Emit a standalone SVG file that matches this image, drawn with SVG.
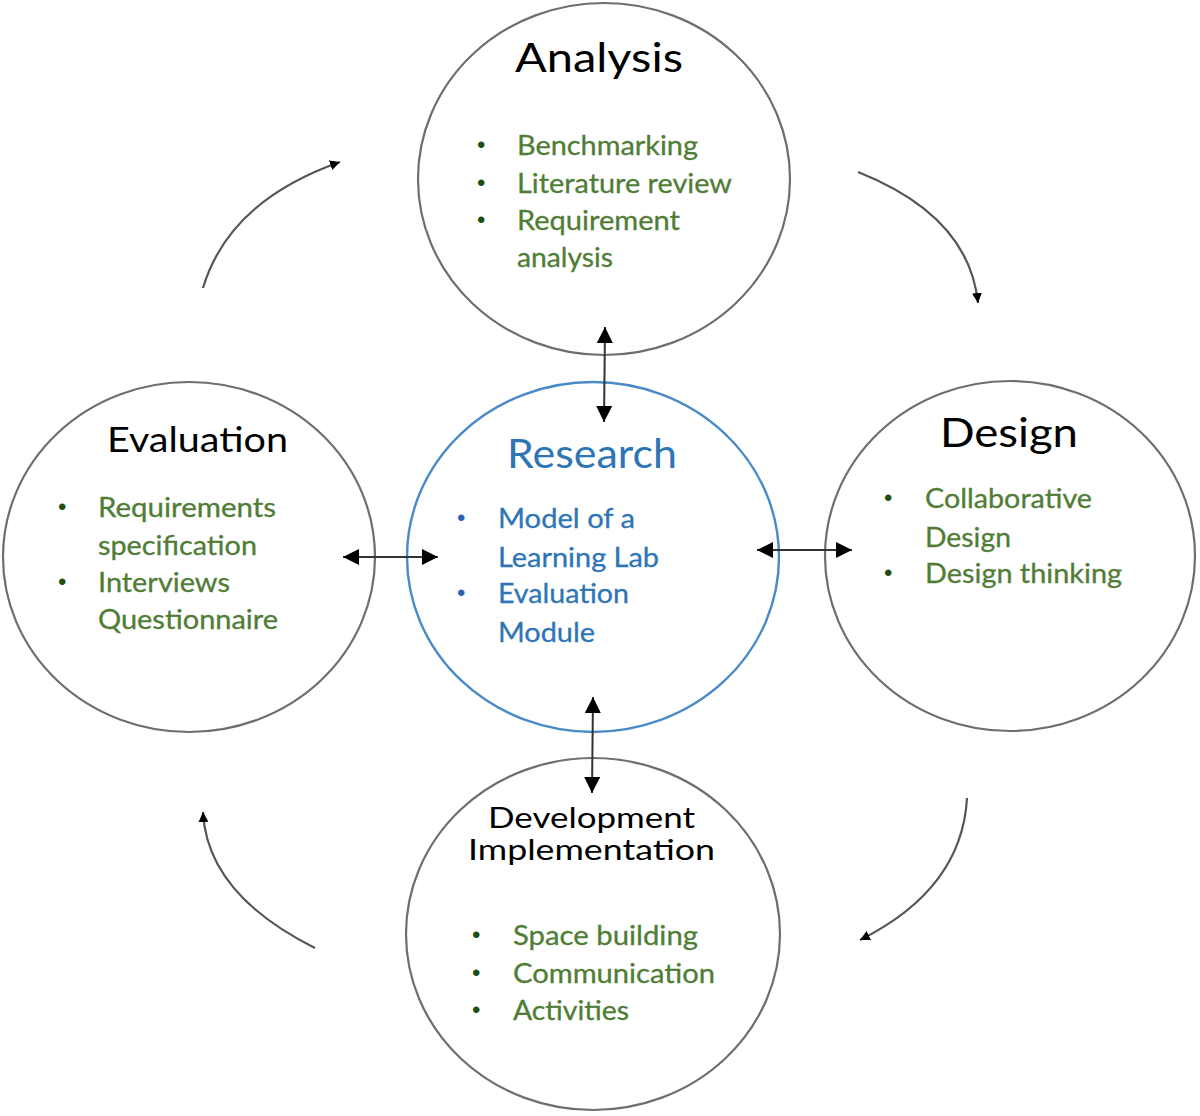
<svg xmlns="http://www.w3.org/2000/svg" width="1200" height="1116" viewBox="0 0 1200 1116">
<defs>
<style>
.node{fill:#fff;stroke:#6e6e6e;stroke-width:2.2}
.center{fill:#fff;stroke:#4a8ac8;stroke-width:2.4}
.title{font-family:Lato,"Open Sans","Liberation Sans",sans-serif;fill:#000}
.item{font-family:Lato,"Open Sans","Liberation Sans",sans-serif;font-size:27px;fill:#507d36;stroke:#507d36;stroke-width:0.3}
.bul{font-family:"Liberation Sans",sans-serif;font-size:24px;fill:#1f4e12}
.bitem{font-family:Lato,"Open Sans","Liberation Sans",sans-serif;font-size:27px;fill:#2e75b6;stroke:#2e75b6;stroke-width:0.3}
.bbul{font-family:"Liberation Sans",sans-serif;font-size:24px;fill:#2e62b0}
.cyc{fill:none;stroke:#555;stroke-width:2.2}
.link{fill:none;stroke:#333;stroke-width:2}
</style>
<marker id="ah" viewBox="0 0 10 10" refX="10" refY="5" markerWidth="10" markerHeight="10" markerUnits="userSpaceOnUse" orient="auto-start-reverse">
<path d="M0,0 L10,5 L0,10 Z" fill="#000"/>
</marker>
<marker id="ab" viewBox="0 0 10 10" refX="10" refY="5" markerWidth="16" markerHeight="16" markerUnits="userSpaceOnUse" orient="auto-start-reverse">
<path d="M0,0 L10,5 L0,10 Z" fill="#000"/>
</marker>
</defs>
<rect width="1200" height="1116" fill="#fff"/>

<g id="node-analysis">
<ellipse class="node" cx="604" cy="179" rx="186" ry="176"/>
<text class="title" x="515" y="72" font-size="40" textLength="168" lengthAdjust="spacingAndGlyphs">Analysis</text>
<text class="bul" x="477" y="153">•</text>
<text class="bul" x="477" y="191">•</text>
<text class="bul" x="477" y="228">•</text>
<text class="item" x="517" y="155" textLength="181" lengthAdjust="spacingAndGlyphs">Benchmarking</text>
<text class="item" x="517" y="193" textLength="215" lengthAdjust="spacingAndGlyphs">Literature review</text>
<text class="item" x="517" y="230" textLength="163" lengthAdjust="spacingAndGlyphs">Requirement</text>
<text class="item" x="517" y="267" textLength="96" lengthAdjust="spacingAndGlyphs">analysis</text>
</g>

<g id="node-evaluation">
<ellipse class="node" cx="189" cy="557" rx="186" ry="175"/>
<text class="title" x="107" y="452" font-size="35" textLength="181" lengthAdjust="spacingAndGlyphs">Evaluation</text>
<text class="bul" x="58" y="515">•</text>
<text class="bul" x="58" y="590">•</text>
<text class="item" x="98" y="517" textLength="178" lengthAdjust="spacingAndGlyphs">Requirements</text>
<text class="item" x="98" y="555" textLength="159" lengthAdjust="spacingAndGlyphs">specification</text>
<text class="item" x="98" y="592" textLength="132" lengthAdjust="spacingAndGlyphs">Interviews</text>
<text class="item" x="98" y="629" textLength="180" lengthAdjust="spacingAndGlyphs">Questionnaire</text>
</g>

<g id="node-research">
<ellipse class="center" cx="593" cy="557" rx="186" ry="175"/>
<text class="title" x="507" y="468" font-size="40" textLength="170" lengthAdjust="spacingAndGlyphs" style="fill:#2e75b6">Research</text>
<text class="bbul" x="457" y="526">•</text>
<text class="bbul" x="457" y="601">•</text>
<text class="bitem" x="498" y="528" textLength="137" lengthAdjust="spacingAndGlyphs">Model of a</text>
<text class="bitem" x="498" y="567" textLength="161" lengthAdjust="spacingAndGlyphs">Learning Lab</text>
<text class="bitem" x="498" y="603" textLength="131" lengthAdjust="spacingAndGlyphs">Evaluation</text>
<text class="bitem" x="498" y="642" textLength="97" lengthAdjust="spacingAndGlyphs">Module</text>
</g>

<g id="node-design">
<ellipse class="node" cx="1010" cy="556" rx="185" ry="175"/>
<text class="title" x="940" y="447" font-size="40" textLength="138" lengthAdjust="spacingAndGlyphs">Design</text>
<text class="bul" x="884" y="506">•</text>
<text class="bul" x="884" y="581">•</text>
<text class="item" x="925" y="508" textLength="167" lengthAdjust="spacingAndGlyphs">Collaborative</text>
<text class="item" x="925" y="547" textLength="86" lengthAdjust="spacingAndGlyphs">Design</text>
<text class="item" x="925" y="583" textLength="197" lengthAdjust="spacingAndGlyphs">Design thinking</text>
</g>

<g id="node-development">
<ellipse class="node" cx="593" cy="934" rx="187" ry="176"/>
<text class="title" x="488" y="828" font-size="28" textLength="207" lengthAdjust="spacingAndGlyphs">Development</text>
<text class="title" x="468" y="860" font-size="28" textLength="247" lengthAdjust="spacingAndGlyphs">Implementation</text>
<text class="bul" x="472" y="943">•</text>
<text class="bul" x="472" y="981">•</text>
<text class="bul" x="472" y="1018">•</text>
<text class="item" x="513" y="945" textLength="185" lengthAdjust="spacingAndGlyphs">Space building</text>
<text class="item" x="513" y="983" textLength="202" lengthAdjust="spacingAndGlyphs">Communication</text>
<text class="item" x="513" y="1020" textLength="116" lengthAdjust="spacingAndGlyphs">Activities</text>
</g>

<g id="connectors">
<path class="cyc" d="M203,288 Q229,201 340,162" marker-end="url(#ah)"/>
<path class="cyc" d="M858,172 Q969,216 978,303" marker-end="url(#ah)"/>
<path class="cyc" d="M967,798 Q962,889 860,940" marker-end="url(#ah)"/>
<path class="cyc" d="M315,948 Q207,894 203,812" marker-end="url(#ah)"/>
<line class="link" x1="605" y1="327" x2="604" y2="422" marker-start="url(#ab)" marker-end="url(#ab)"/>
<line class="link" x1="343" y1="557" x2="438" y2="557" marker-start="url(#ab)" marker-end="url(#ab)"/>
<line class="link" x1="757" y1="550" x2="852" y2="550" marker-start="url(#ab)" marker-end="url(#ab)"/>
<line class="link" x1="593" y1="697" x2="592" y2="793" marker-start="url(#ab)" marker-end="url(#ab)"/>
</g>
</svg>
